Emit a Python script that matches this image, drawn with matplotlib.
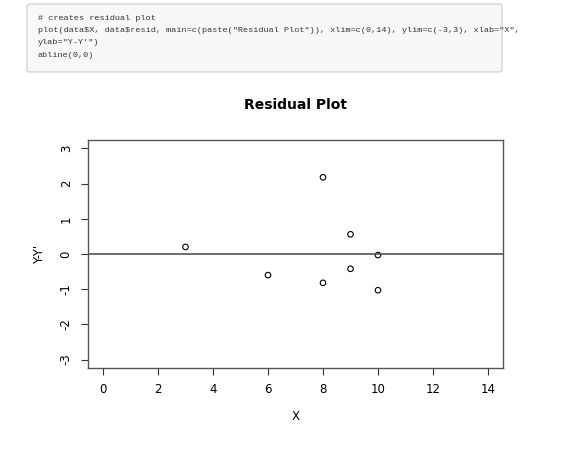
import matplotlib
matplotlib.use("Agg")
import matplotlib.pyplot as plt
from matplotlib.patches import FancyBboxPatch

x = [3, 6, 8, 8, 9, 9, 10, 10]
resid = [0.2, -0.6, 2.18, -0.82, 0.56, -0.42, -0.03, -1.03]
xticks = [0, 2, 4, 6, 8, 10, 12, 14]
yticks = [-3, -2, -1, 0, 1, 2, 3]
code_lines = [
    "# creates residual plot",
    'plot(data$X, data$resid, main=c(paste("Residual Plot")), xlim=c(0,14), ylim=c(-3,3), xlab="X",',
    'ylab="Y-Y\'")',
    "abline(0,0)",
]

fig = plt.figure(figsize=(5.67, 4.68), dpi=100)
fig.patches.append(FancyBboxPatch((27/567, 1-72/468), 475/567, 68/468,
    boxstyle="round,pad=0,rounding_size=0.005", transform=fig.transFigure,
    facecolor="#f8f8f8", edgecolor="#cccccc", linewidth=0.8))
for i, line in enumerate(code_lines):
    fig.text(38/567, 1-(18+i*12.5)/468, line, family="Liberation Mono",
             fontsize=6.1, color="#333333", va="center", parse_math=False)

ax = fig.add_axes([88/567, 1-368/468, 415/567, 228/468])
ax.scatter(x, resid, s=16, facecolors="none", edgecolors="black", linewidths=0.8)
ax.axhline(0, color="#555555", linewidth=1.2)
ax.set_xlim(-0.545, 14.545)
ax.set_ylim(-3.24, 3.24)
ax.set_xticks(xticks)
ax.set_yticks(yticks)
ax.set_yticklabels([str(v) for v in yticks], rotation=90, va="center")
ax.tick_params(labelsize=8.5, length=5, width=0.8, color="#333333", pad=6)
for s in ax.spines.values():
    s.set_color("#555555"); s.set_linewidth(1)
ax.set_xlabel("X", fontsize=8.5, labelpad=10)
ax.set_ylabel("Y-Y'", fontsize=8.5, labelpad=10)
ax.set_title("Residual Plot", fontsize=10, fontweight="bold", pad=22)
fig.savefig("out.png", dpi=100)
